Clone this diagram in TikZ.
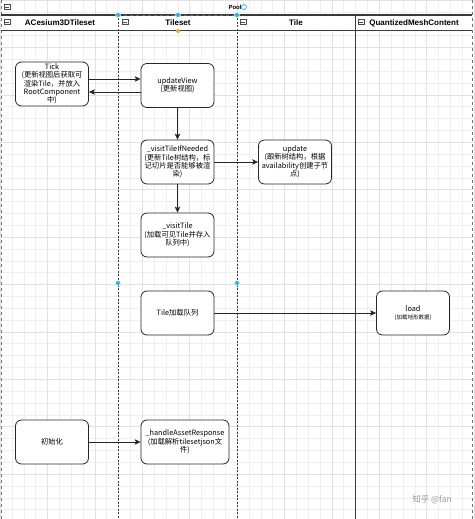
\documentclass[tikz,border=0pt]{standalone}
\usepackage{fontspec}
\setmainfont{Noto Sans CJK SC}
\newfontfamily\hdrfont{Liberation Sans}
\usetikzlibrary{arrows.meta,calc}
\definecolor{gridminor}{HTML}{EFEFEF}
\definecolor{gridmajor}{HTML}{E2E2E2}
\definecolor{laneline}{HTML}{3A3A3A}
\definecolor{handle}{HTML}{29B6F2}
\definecolor{handleorange}{HTML}{F5A623}
\definecolor{wmark}{HTML}{9A9A9A}
\tikzset{
  proc/.style={draw=black!85, line width=0.8pt, rounded corners=6pt, fill=white,
    minimum width=73pt, minimum height=44pt, align=center, inner sep=1pt,
    font=\fontsize{7.3}{8.4}\selectfont},
  conn/.style={draw=black!85, line width=0.7pt, -{Stealth[length=6pt,width=5.5pt,inset=1.5pt]}},
  hdr/.style={font=\hdrfont\bfseries\fontsize{8}{9}\selectfont},
  dot/.style={circle, fill=handle, draw=white, line width=0.4pt, inner sep=0pt, minimum size=5pt},
  collapse/.style={draw=black!70, fill=white, line width=0.4pt, minimum width=6pt, minimum height=5pt, inner sep=0pt}
}
\begin{document}
\begin{tikzpicture}[x=1pt,y=-1pt]
\useasboundingbox (0,0) rectangle (474,519);
\fill[white] (0,0) rectangle (474,519);
% grid
\foreach \i in {0,...,44} {
  \pgfmathsetmacro\gx{\i*11.85}
  \draw[gridminor, line width=0.4pt] (\gx,0) -- (\gx,519);
  \draw[gridminor, line width=0.4pt] (0,\gx) -- (474,\gx);
}
\foreach \i in {0,...,11} {
  \pgfmathsetmacro\gx{\i*47.4}
  \draw[gridmajor, line width=0.5pt] (\gx,0) -- (\gx,519);
  \draw[gridmajor, line width=0.5pt] (0,\gx) -- (474,\gx);
}
% pool frame
\fill[white] (1,15) rectangle (472,30);
\draw[black!55, dashed, line width=0.6pt] (1,0) -- (1,519);
\draw[black!55, dashed, line width=0.6pt] (472,0) -- (472,519);
\draw[laneline, line width=1.1pt] (1,15) -- (472,15);
\draw[laneline, line width=0.8pt] (1,30) -- (472,30);
% lane separators
\draw[laneline, line width=0.7pt, dash pattern=on 2pt off 1.5pt] (118,15) -- (118,519);
\draw[laneline, line width=0.7pt, dash pattern=on 2pt off 1.5pt] (237,15) -- (237,519);
\draw[laneline, line width=0.8pt] (355,15) -- (355,519);
\draw[black!60, dashed, line width=0.6pt] (118,15) -- (237,15);
% headers
\node[font=\hdrfont\bfseries\fontsize{6}{7}\selectfont] (pool) at (235,7.5) {Pool};
\node[hdr] (h1) at (60,23) {ACesium3DTileset};
\node[hdr] (h2) at (178,23) {Tileset};
\node[hdr] (h3) at (296,23) {Tile};
\node[hdr] (h4) at (414,23) {QuantizedMeshContent};
% collapse icons
\foreach \n/\cx/\cy in {c0/7/7, c1/7/22, c2/125/22, c3/243/22, c4/361/22} {
  \node[collapse] (\n) at (\cx,\cy) {};
  \draw[black!70, line width=0.4pt] ($(\n.west)+(1.3,0)$) -- ($(\n.east)+(-1.3,0)$);
}
% rotate icon
\node[circle, draw=handle, line width=0.8pt, inner sep=0pt, minimum size=5pt] (rot) at (244,7) {};
% selection handles
\node[dot] (d1) at (118,15) {};
\node[dot] (d2) at (178,15) {};
\node[dot] (d3) at (237,15) {};
\node[dot] (d4) at (118,283) {};
\node[dot] (d5) at (237,283) {};
\node[circle, fill=handleorange, inner sep=0pt, minimum size=4pt] (d6) at (178,31) {};
% nodes
\node[proc] (tick) at (52,84) {Tick\\(更新视图后获取可\\渲染Tile，并放入\\RootComponent\\中)};
\node[proc] (uv) at (177.5,85.5) {updateView\\(更新视图)};
\node[proc] (vtin) at (177.5,162) {\_visitTileIfNeeded\\(更新Tile树结构，标\\记切片是否能够被渲\\染)};
\node[proc] (upd) at (295,162) {update\\(跟新树结构，根据\\availability创建子节\\点)};
\node[proc] (vt) at (177.5,235) {\_visitTile\\(加载可见Tile并存入\\队列中)};
\node[proc] (tq) at (177.5,313) {Tile加载队列};
\node[proc] (load) at (413,313) {load\\[-1pt]{\fontsize{5.5}{6.5}\selectfont (加载地形数据)}};
\node[proc] (init) at (52,442) {初始化};
\node[proc, minimum width=88pt] (har) at (185,442) {\_handleAssetResponse\\(加载解析tilesetjson文\\件)};
% connectors
\draw[conn] (tick.east |- 0,79) -- (uv.west |- 0,79);
\draw[conn] (uv.west |- 0,92) -- (tick.east |- 0,92);
\draw[conn] (uv) -- (vtin);
\draw[conn] (vtin) -- (upd);
\draw[conn] (vtin) -- (vt);
\draw[conn] (tq) -- (load);
\draw[conn] (init) -- (har);
% watermark
\node[text=wmark, font=\fontsize{8.5}{10}\selectfont] (wm) at (432,500) {知乎 @fan};
\end{tikzpicture}
\end{document}
